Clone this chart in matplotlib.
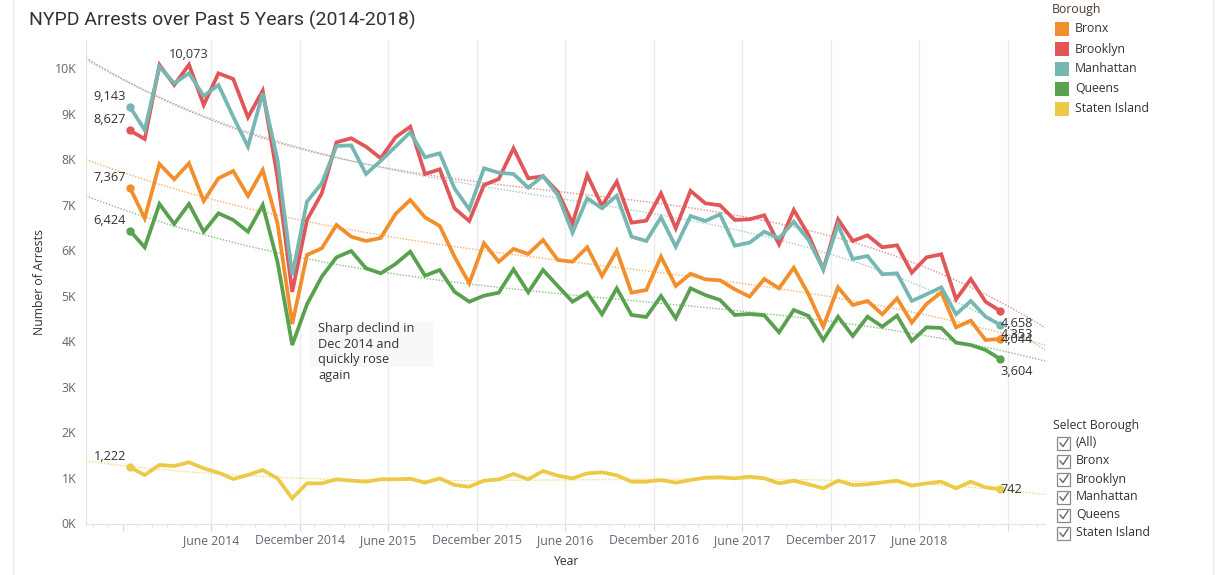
import numpy as np
import matplotlib
matplotlib.use('Agg')
import matplotlib.pyplot as plt
from matplotlib.patches import Rectangle
from matplotlib.lines import Line2D

plt.rcParams['font.family'] = ['Open Sans', 'DejaVu Sans']
FS = 8.8

# monthly arrests, Jan 2014 .. Dec 2018
boroughs = ['Bronx', 'Brooklyn', 'Manhattan', 'Queens', 'Staten Island']
colors = ['#F28E2B', '#E15759', '#76B7B2', '#59A14F', '#EDC948']

bronx = [7367, 6697, 7891, 7554, 7906, 7077, 7576, 7737, 7187, 7759,
         6587, 4374, 5891, 6038, 6550, 6293, 6198, 6265, 6792, 7100,
         6719, 6528, 5854, 5268, 6148, 5743, 6023, 5913, 6220, 5781,
         5743, 6060, 5429, 5986, 5062, 5121, 5854, 5209, 5480, 5356,
         5334, 5137, 4975, 5363, 5158, 5612, 5026, 4315, 5180, 4792,
         4880, 4587, 4938, 4403, 4814, 5070, 4301, 4447, 4022, 4044]
brooklyn = [8627, 8440, 10067, 9627, 10073, 9188, 9884, 9759, 8917, 9502,
            7600, 5080, 6660, 7246, 8368, 8456, 8272, 8016, 8477, 8711,
            7671, 7774, 6917, 6638, 7429, 7561, 8236, 7576, 7620, 7282,
            6587, 7649, 6968, 7502, 6601, 6645, 7246, 6477, 7300, 7027,
            6983, 6660, 6675, 6763, 6125, 6880, 6330, 5576, 6675, 6198,
            6323, 6060, 6104, 5502, 5840, 5906, 4917, 5363, 4864, 4658]
manhattan = [9143, 8638, 10030, 9664, 9884, 9385, 9627, 8931, 8272, 9444,
             7979, 5450, 7062, 7466, 8286, 8300, 7671, 7960, 8272, 8587,
             8038, 8126, 7356, 6895, 7796, 7700, 7671, 7370, 7627, 7209,
             6381, 7137, 6917, 7194, 6293, 6198, 6719, 6073, 6748, 6638,
             6785, 6096, 6162, 6403, 6257, 6623, 6220, 5576, 6550, 5803,
             5869, 5466, 5488, 4880, 5026, 5180, 4587, 4880, 4535, 4353]
queens = [6424, 6060, 7012, 6572, 7012, 6403, 6807, 6660, 6403, 6990,
          5743, 3912, 4807, 5414, 5840, 5979, 5598, 5488, 5693, 5964,
          5436, 5561, 5084, 4864, 4996, 5062, 5576, 5071, 5561, 5209,
          4864, 5062, 4587, 5158, 4572, 4528, 4989, 4499, 5158, 5011,
          4901, 4572, 4594, 4565, 4191, 4682, 4550, 4022, 4535, 4110,
          4535, 4315, 4557, 4000, 4301, 4286, 3963, 3912, 3803, 3604]
staten = [1222, 1055, 1275, 1253, 1334, 1202, 1106, 967, 1055, 1165,
          982, 542, 872, 872, 960, 930, 908, 960, 960, 974,
          886, 982, 835, 798, 930, 960, 1077, 960, 1143, 1040,
          982, 1092, 1114, 1048, 908, 908, 945, 886, 945, 996,
          1004, 982, 1018, 982, 872, 930, 850, 762, 930, 835,
          850, 894, 930, 820, 872, 908, 762, 908, 784, 742]
series = [bronx, brooklyn, manhattan, queens, staten]

tick_labels = ['June 2014', 'December 2014', 'June 2015', 'December 2015',
               'June 2016', 'December 2016', 'June 2017', 'December 2017',
               'June 2018', '']

W, H = 1220, 575
fig = plt.figure(figsize=(W / 100, H / 100), dpi=100)


def fx(px):
    return px / W


def fy(py):
    return 1 - py / H


ax = fig.add_axes([fx(86), 51 / H, 959 / W, 484 / H])
idx = np.arange(60)
xmin, xmax = -2.98, 62.03

# gridlines at the half-year ticks
major = np.arange(5.5, 60, 6)
for m in major:
    ax.axvline(m, color='#ececec', lw=1, zorder=0)

for vals, c in zip(series, colors):
    vals = np.array(vals)
    coef = np.polyfit(idx, vals, 3)
    xs = np.linspace(xmin, xmax, 300)
    ax.plot(xs, np.polyval(coef, xs), color=c, lw=1.0, ls=(0, (1, 1.2)), alpha=0.7, zorder=1)
    ax.plot(idx, vals, color=c, lw=2.7, zorder=3, solid_joinstyle='miter')
    ax.plot([idx[0], idx[-1]], [vals[0], vals[-1]], 'o', color=c, ms=5, zorder=4)

txt = dict(fontsize=9.2, color='#333333', zorder=5)
# start labels
for vals in [bronx, brooklyn, manhattan, queens, staten]:
    ax.annotate(f'{vals[0]:,}', (0, vals[0]), xytext=(-3, 3), textcoords='offset points',
                ha='right', va='bottom', **txt)
# max label
imax = int(np.argmax(brooklyn))
ax.annotate(f'{brooklyn[imax]:,}', (imax, brooklyn[imax]), xytext=(0, 3),
            textcoords='offset points', ha='center', va='bottom', **txt)
# end labels
for vals, dy, va in [(brooklyn, -4, 'top'), (manhattan, -2, 'top'), (bronx, 0, 'center'),
                     (queens, -4, 'top'), (staten, 0, 'center')]:
    ax.annotate(f'{vals[-1]:,}', (59, vals[-1]), xytext=(0, dy), textcoords='offset points',
                ha='left', va=va, **txt)

ax.set_xlim(xmin, xmax)
ax.set_ylim(-22, 10616)
ax.set_yticks(np.arange(0, 10001, 1000))
ax.set_yticklabels([f'{k}K' for k in range(11)])
ax.set_xticks(np.append(-0.5, major))
ax.set_xticklabels([''] + tick_labels)
ax.set_xticks(np.arange(-2.5, 62, 1), minor=True)
ax.tick_params(axis='y', length=0, pad=7, labelsize=FS, labelcolor='#5d6773')
ax.tick_params(axis='x', which='major', length=5, color='#d9d9d9', pad=2,
               labelsize=FS, labelcolor='#5d6773')
ax.tick_params(axis='x', which='minor', length=2.5, color='#d9d9d9')
for s in ['top', 'right']:
    ax.spines[s].set_visible(False)
for s in ['left', 'bottom']:
    ax.spines[s].set_color('#e2e2e2')
ax.set_ylabel('Number of Arrests', fontsize=FS, color='#333333', labelpad=6)
ax.set_xlabel('Year', fontsize=FS, color='#333333', labelpad=6)

# annotation box
fig.patches.append(Rectangle((fx(310), fy(367)), 123 / W, 45 / H, transform=fig.transFigure,
                             facecolor='#f8f8f8', edgecolor='none', zorder=2))
fig.text(fx(318), fy(322), 'Sharp declind in\nDec 2014 and\nquickly rose\nagain',
         fontsize=9.2, color='#333333', va='top', ha='left', linespacing=1.25, zorder=6)

# title
fig.text(fx(29), fy(20), 'NYPD Arrests over Past 5 Years (2014-2018)',
         family=['Noto Sans Condensed', 'DejaVu Sans Condensed', 'Liberation Sans Narrow', 'Roboto'],
         fontstretch='condensed', fontsize=14, color='#333333', va='center', ha='left')

# pane borders
fig.add_artist(Line2D([fx(13), fx(13)], [0, 1], color='#eeeeee', lw=1))
fig.add_artist(Line2D([fx(1213), fx(1213)], [0, 1], color='#eeeeee', lw=1))

# colour legend
fig.text(fx(1052), fy(10), 'Borough', fontsize=FS, color='#4a3a2a', va='center', ha='left')
for k, (name, c) in enumerate(zip(boroughs, colors)):
    yc = 29 + 20 * k
    fig.patches.append(Rectangle((fx(1055), fy(yc + 7)), 14 / W, 14 / H,
                                 transform=fig.transFigure, facecolor=c, edgecolor='none'))
    fig.text(fx(1075), fy(yc), name, fontsize=FS, color='#333333', va='center', ha='left')

# filter list
fig.text(fx(1053), fy(425), 'Select Borough', fontsize=FS, color='#333333', va='center', ha='left')
for k, name in enumerate(['(All)'] + boroughs):
    yc = 443 + 18 * k
    fig.patches.append(Rectangle((fx(1057), fy(yc + 7)), 13 / W, 13 / H,
                                 transform=fig.transFigure, facecolor='white',
                                 edgecolor='#8a8a8a', lw=0.9))
    fig.add_artist(Line2D([fx(1060), fx(1063), fx(1068)], [fy(yc), fy(yc + 3.5), fy(yc - 4)],
                          color='#666666', lw=1.0))
    fig.text(fx(1076), fy(yc), name, fontsize=FS, color='#333333', va='center', ha='left')

fig.savefig('out.png', dpi=100, facecolor='white')
